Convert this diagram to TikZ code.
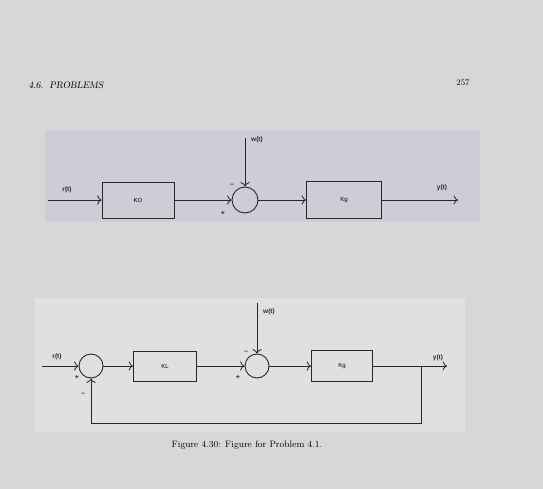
\documentclass[tikz,border=0pt]{standalone}
\usepackage{fontspec}
\setsansfont{Liberation Sans}
\usetikzlibrary{arrows.meta}
\definecolor{pagegray}{RGB}{214,216,213}
\definecolor{panelA}{RGB}{206,205,215}
\definecolor{panelB}{RGB}{224,225,223}
\definecolor{inkgray}{RGB}{40,40,44}
\begin{document}
\begin{tikzpicture}[x=1pt,y=-1pt,
    block/.style={draw=inkgray,line width=0.9pt,inner sep=0pt,
        font=\sffamily\fontsize{6}{7}\selectfont},
    sumnode/.style={draw=inkgray,line width=0.9pt,circle,inner sep=0pt},
    sig/.style={font=\sffamily\bfseries\fontsize{6.5}{7}\selectfont,text=inkgray},
    sgn/.style={font=\sffamily\bfseries\fontsize{7}{8}\selectfont,text=inkgray},
    line/.style={draw=inkgray,line width=0.8pt,-{To[scale=1.3]}}]
    \useasboundingbox (0,0) rectangle (543,489);
    \fill[pagegray] (0,0) rectangle (543,489);
    \fill[panelA] (45,130) rectangle (480,222);
    \fill[panelB] (35,298) rectangle (465,432);
    % page header and caption
    \node[font=\slshape\fontsize{9.5}{11}\selectfont,anchor=west] (head) at (25,85) {4.6.\ \ PROBLEMS};
    \node[font=\fontsize{8.5}{10}\selectfont] (page) at (463,83) {257};
    \node[font=\fontsize{9.2}{10}\selectfont] (cap) at (247,445) {Figure 4.30: Figure for Problem 4.1.};
    % first diagram
    \coordinate (rinA) at (48,200);
    \coordinate (winA) at (245,138);
    \coordinate (youtA) at (458,200);
    \node[block,minimum width=72,minimum height=36] (kzero) at (138,200) {KO};
    \node[sumnode,minimum size=26] (sumA) at (245,200) {};
    \node[block,minimum width=75,minimum height=37] (kgA) at (344,200) {Kg};
    \draw[line] (rinA) -- (kzero);
    \draw[line] (kzero) -- (sumA);
    \draw[line] (winA) -- (sumA);
    \draw[line] (sumA) -- (kgA);
    \draw[line] (kgA) -- (youtA);
    \node[sig] (rA) at (67,190) {r(t)};
    \node[sig] (wA) at (257,140) {w(t)};
    \node[sig] (yA) at (442,188) {y(t)};
    \node[sgn] (mA) at (232,185) {--};
    \node[sgn] (pA) at (223,213) {+};
    % second diagram
    \coordinate (rinB) at (42,366);
    \coordinate (winB) at (257,303);
    \coordinate (youtB) at (447,366);
    \coordinate (fbB) at (421,366);
    \coordinate (fbcB) at (421,423);
    \node[sumnode,minimum size=24] (sumB) at (91,366) {};
    \node[block,minimum width=63,minimum height=30] (kl) at (165,366) {KL};
    \node[sumnode,minimum size=24] (sumC) at (257,366) {};
    \node[block,minimum width=61,minimum height=31] (kgB) at (342,366) {Kg};
    \draw[line] (rinB) -- (sumB);
    \draw[line] (sumB) -- (kl);
    \draw[line] (kl) -- (sumC);
    \draw[line] (winB) -- (sumC);
    \draw[line] (sumC) -- (kgB);
    \draw[line] (kgB) -- (youtB);
    \draw[line] (fbB) -- (fbcB) -| (sumB);
    \node[sig] (rB) at (57,357) {r(t)};
    \node[sig] (wB) at (269,312) {w(t)};
    \node[sig] (yB) at (438,358) {y(t)};
    \node[sgn] (pB) at (77,377) {+};
    \node[sgn] (mB) at (83,394) {--};
    \node[sgn] (mC) at (246,352) {--};
    \node[sgn] (pC) at (238,377) {+};
\end{tikzpicture}
\end{document}
